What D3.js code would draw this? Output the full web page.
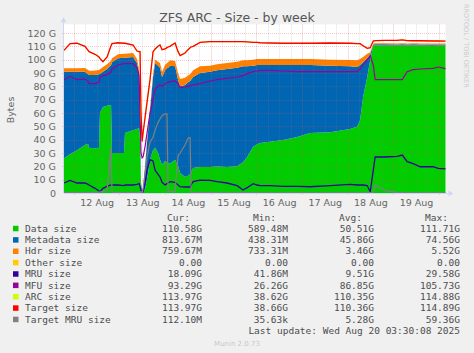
<!DOCTYPE html>
<html>
<head>
<meta charset="utf-8">
<script src="https://cdn.jsdelivr.net/npm/d3@7"></script>
<style>
  html, body { margin: 0; padding: 0; background: #f0f0f0; }
  svg { display: block; }
  .mono { font-family: "DejaVu Sans Mono", monospace; font-size: 9.5px; fill: #4d4d4d; }
</style>
</head>
<body>
<div id="chart"></div>
<script>
// time of each sample (Aug 2025)
var times = ["08-11 18:50","08-11 22:00","08-12 01:40","08-12 05:50","08-12 07:30","08-12 08:00","08-12 11:10",
  "08-12 13:15","08-12 13:45","08-12 15:20","08-12 17:30","08-12 19:35","08-12 20:05","08-12 23:15","08-13 02:25",
  "08-13 02:55","08-13 07:10","08-13 09:15","08-13 10:20","08-13 10:50","08-13 11:20","08-13 11:55","08-13 12:25",
  "08-13 13:30","08-13 14:30","08-13 16:05","08-13 17:40","08-13 18:45","08-13 20:20","08-13 21:20","08-13 22:25",
  "08-14 00:00","08-14 01:00","08-14 01:35","08-14 02:35","08-14 05:15","08-14 06:50","08-14 07:55","08-14 10:30",
  "08-14 12:05","08-14 13:10","08-14 13:40","08-14 14:45","08-14 18:25","08-14 23:40","08-15 03:20","08-15 08:35",
  "08-15 13:55","08-15 17:00","08-15 19:10","08-15 22:20","08-16 00:25","08-16 02:00","08-16 07:15","08-16 14:05",
  "08-16 21:30","08-17 04:20","08-17 14:50","08-18 01:20","08-18 05:00","08-18 06:35","08-18 08:10","08-18 10:20",
  "08-18 11:55","08-18 13:30","08-18 14:30","08-18 19:45","08-19 02:05","08-19 04:45","08-19 07:20","08-19 10:30",
  "08-19 14:10","08-19 21:00","08-19 23:40","08-20 03:30"];

// values in GB
var dataSize = [26,29,32,36,37,34,33.5,34,60,64.5,65.5,66,30,30,30,45,47,48,48.7,40,3,0.59,0.8,3,10,25,32,34,30,25,21,
  24,23,22.5,22,25,20,15,12,13,14,16,18.7,19.5,19.5,19.8,19.5,20,23,27,34.7,36.5,37.5,38.5,39.7,42,45,45.5,48,49.7,
  54.8,72,87,100,110.5,110.8,110.7,110.6,110.7,110.6,110.7,110.6,110.5,110.6,110.58];
var metadataSize = [65,62,59,55,52,54.5,55,55,29.5,26.5,27.5,30,68,71,71.5,56.5,55,49.5,41.3,30,5,0.44,2.2,17,28,37,
  55,63.5,65.5,69,66,68,70.5,71.5,73.5,70,65,65,69,70,70,69,68.3,70.5,71.5,72.2,73.5,74,72,68,60.8,59.5,58.5,57.5,
  56.3,54,51,50,47,44.8,41.2,26,14,4,0.8,0.82,0.81,0.81,0.82,0.81,0.81,0.81,0.81,0.81,0.81];
var hdrSize = [2.5,2.5,2.5,2.8,3.2,3.2,3.3,3.3,3.3,3.5,3.5,3.2,3,3,3,3,3,3,3,2.5,1,0.73,0.8,1,1.5,2,2.5,2.5,3,3.5,4,
  4,4,4,4,4,5,5.5,5.5,5.2,5,5,5,5,4.5,4.5,4.5,4.5,4.5,4.5,4.5,4.5,4.5,4.5,4.5,4.5,4.5,4.5,4.8,5,4.5,4,3.5,1.5,0.8,
  0.77,0.76,0.76,0.76,0.76,0.76,0.76,0.76,0.76,0.76];
var otherSize = [0,0,0,0,0,0,0,0,0,0,0,0,0,0,0,0,0,0,0,0,0,0,0,0,0,0,0,0,0,0,0,0,0,0,0,0,0,0,0,0,0,0,0,0,0,0,0,0,
  0,0,0,0,0,0,0,0,0,0,0,0,0,0,0,0,0,0,0,0,0,0,0,0,0,0,0];
var mruSize = [7.5,9.5,7.5,7.5,6.5,6,3.5,1.5,1,3.5,5,6,6,6,5.5,6,6,6.5,7,5,2,0.05,1,8,17,25,24,17,14,12,8,6,7,7.5,
  8.5,8,6,4.7,4.5,4.5,4.5,6,8.5,9.7,9.5,8.5,7.5,5.5,2.2,4,7,6,5.5,5.5,5,5,4.7,5.5,6.5,6,6,6,5.5,1,17,27,27,27.5,
  28.5,23.5,22,19.7,19.7,18.5,18.09];
var mfuSize = [84.7,87.5,85,85.5,84,82,82,83,87,88,89,90.5,93,96,97,97,97,94,88,60,30,26.3,27,35,45,60,70,78,80,81,
  80,82,82.5,83,83.5,84,82,79,79.5,80,80.5,80.5,81,82,84,85,86,87,88,89.5,91,91.5,92,92,91.5,91,91,91,91,91,93,96,
  100,103,96,85,85,85,85,91,92.5,93,93.5,94.5,93.29];
var arcSize = [107,112,112.3,110,107,106,104,102,101,98.5,102,110.5,112,112.7,112.3,112.3,111,106.5,106,106,60,
  38.62,45,57,68,85,106,108,110,111,107.5,108,109,109.5,110,112.5,106,103,105,107.5,109,109.5,110,113,113.5,113.5,
  113.5,113.5,113.5,113.3,113,113,112.7,112.5,112.3,112.3,112.3,112.5,112.3,112,112,110.5,108.5,109,114,114.3,114.4,
  114.5,114.88,114.3,114.2,114.2,114,114.1,113.97];
var targetSize = [107,112,112.3,110,107,106,104,102,101,98.5,102,110.5,112,112.7,112.3,112.3,111,106.5,106,106,60,
  38.66,45,57,68,85,106,108,110,111,107.5,108,109,109.5,110,112.5,106,103,105,107.5,109,109.5,110,113,113.5,113.5,
  113.5,113.5,113.5,113.3,113,113,112.7,112.5,112.3,112.3,112.3,112.5,112.3,112,112,110.5,108.5,109,114,114.3,114.4,
  114.5,114.89,114.3,114.2,114.2,114,114.1,113.97];
var targetMruSize = [0.3,0.3,0.2,0.3,0.3,0.3,0.4,0.5,0.8,1,2,34,0.5,0.3,0.3,0.3,0.3,0.3,0.3,0.3,1,0,3,15,27,38,42,47,
  53,55.5,58,59.3,59.36,1.5,1,1,28,30,36,41,41.5,0.5,0.3,0.3,0.3,0.2,0.2,0.2,0.3,0.3,0.2,0.2,0.2,0.2,0.2,0.2,0.2,0.2,
  0.2,0.2,0.2,0.2,0.2,0.3,0.5,6,2,0.3,0.3,0.2,0.2,0.2,0.2,0.2,0.11];

var dayLabels = ["12 Aug","13 Aug","14 Aug","15 Aug","16 Aug","17 Aug","18 Aug","19 Aug"];
var yTicks = [0,10,20,30,40,50,60,70,80,90,100,110,120];

var legendNames = ["Data size","Metadata size","Hdr size","Other size","MRU size","MFU size","ARC size","Target size","Target MRU size"];
var legendColors = ["#00cc00","#0066b3","#ff8000","#ffcc00","#330099","#990099","#ccff00","#ff0000","#808080"];
var curValues = ["110.58G","813.67M","759.67M","0.00","18.09G","93.29G","113.97G","113.97G","112.10M"];
var minValues = ["589.48M","438.31M","733.31M","0.00","41.86M","26.26G","38.62G","38.66G","35.63k"];
var avgValues = ["50.51G","45.86G","3.46G","0.00","9.51G","86.85G","110.35G","110.36G","5.28G"];
var maxValues = ["111.71G","74.56G","5.52G","0.00","29.58G","105.73G","114.88G","114.89G","59.36G"];

var width = 474, height = 353;
var plotLeft = 64, plotRight = 445.5, plotBottom = 193, plotTop = 33;

var parse = function(s) { return d3.timeParse("%Y-%m-%d %H:%M")("2025-" + s); };
var dates = times.map(parse);

var svg = d3.select("#chart").append("svg")
  .attr("width", width).attr("height", height)
  .style("font-family", "'DejaVu Sans', sans-serif");

svg.append("rect").attr("width", width).attr("height", height).attr("fill", "#f0f0f0");

var x = d3.scaleTime().domain([dates[0], dates[dates.length - 1]]).range([plotLeft, plotRight]);
var y = d3.scaleLinear().domain([0, 120]).range([plotBottom, plotTop]);
var canvasTop = y(126.5);

// canvas
svg.append("rect")
  .attr("x", plotLeft).attr("y", canvasTop)
  .attr("width", plotRight - plotLeft).attr("height", plotBottom - canvasTop)
  .attr("fill", "#ffffff");

// stacked areas
var rows = dates.map(function(d, i) {
  return { date: d, data: dataSize[i], meta: metadataSize[i], hdr: hdrSize[i], other: otherSize[i] };
});
var stack = d3.stack().keys(["data", "meta", "hdr", "other"]);
var series = stack(rows);
var area = d3.area()
  .x(function(d) { return x(d.data.date); })
  .y0(function(d) { return y(d[0]); })
  .y1(function(d) { return y(d[1]); });

svg.selectAll(".layer")
  .data(series)
  .enter()
  .append("path")
  .attr("class", "layer")
  .attr("d", area)
  .attr("fill", function(d, i) { return legendColors[i]; });

// grid (rrdtool draws it over the areas)
var gridG = svg.append("g");
var minorHours = d3.timeHour.every(6).range(parse("08-11 19:00"), parse("08-20 03:30"));
gridG.selectAll(".vminor")
  .data(minorHours.filter(function(d) { return d.getHours() != 0; }))
  .enter().append("line")
  .attr("x1", function(d) { return Math.round(x(d)) + 0.5; }).attr("x2", function(d) { return Math.round(x(d)) + 0.5; })
  .attr("y1", canvasTop).attr("y2", plotBottom)
  .attr("stroke", "rgba(140,140,140,0.25)").attr("stroke-dasharray", "1,1");
gridG.selectAll(".vmajor")
  .data(d3.timeDay.range(parse("08-12 00:00"), parse("08-20 03:30")))
  .enter().append("line")
  .attr("x1", function(d) { return Math.round(x(d)) + 0.5; }).attr("x2", function(d) { return Math.round(x(d)) + 0.5; })
  .attr("y1", canvasTop).attr("y2", plotBottom + 2)
  .attr("stroke", "rgba(224,80,80,0.35)").attr("stroke-dasharray", "1,1");
gridG.selectAll(".hmajor")
  .data(yTicks.slice(1))
  .enter().append("line")
  .attr("x1", plotLeft - 2).attr("x2", plotRight)
  .attr("y1", function(d) { return Math.round(y(d)) + 0.5; }).attr("y2", function(d) { return Math.round(y(d)) + 0.5; })
  .attr("stroke", "rgba(224,80,80,0.3)").attr("stroke-dasharray", "1,1");

// lines
var lineSeries = [
  { values: mruSize, color: legendColors[4], w: 1.3 },
  { values: mfuSize, color: legendColors[5], w: 1.2 },
  { values: arcSize, color: legendColors[6], w: 1.1 },
  { values: targetSize, color: legendColors[7], w: 1.3 },
  { values: targetMruSize, color: legendColors[8], w: 1.2 }
];
var line = d3.line()
  .x(function(d) { return x(d.date); })
  .y(function(d) { return y(d.v); });
lineSeries.forEach(function(s) {
  svg.append("path")
    .datum(dates.map(function(d, i) { return { date: d, v: s.values[i] }; }))
    .attr("d", line)
    .attr("fill", "none")
    .attr("stroke", s.color)
    .attr("stroke-width", s.w);
});

// axes
var axisColor = "#cfd6f8";
svg.append("line").attr("x1", plotLeft).attr("x2", plotRight + 4).attr("y1", plotBottom + 0.5).attr("y2", plotBottom + 0.5)
  .attr("stroke", axisColor);
svg.append("line").attr("x1", plotLeft - 0.5).attr("x2", plotLeft - 0.5).attr("y1", plotBottom).attr("y2", canvasTop - 3)
  .attr("stroke", axisColor);
svg.append("path").attr("d", "M" + (plotRight + 8) + "," + (plotBottom + 0.5) + "l-5,-3v6z").attr("fill", axisColor);
svg.append("path").attr("d", "M" + (plotLeft - 0.5) + "," + (canvasTop - 7) + "l-3,5h6z").attr("fill", axisColor);

var yAxis = d3.axisLeft(y)
  .tickValues(yTicks)
  .tickSize(0)
  .tickPadding(8)
  .tickFormat(function(d) { return d == 0 ? "0" : d + " G"; });
var yG = svg.append("g").attr("transform", "translate(" + plotLeft + ",0)").call(yAxis);
yG.select(".domain").remove();
yG.selectAll("text").attr("fill", "#666").style("font-size", "9.5px").style("font-family", "'DejaVu Sans', sans-serif");

var noonDates = dayLabels.map(function(d, i) { return d3.timeHour.offset(parse("08-12 12:00"), 24 * i); });
var xAxis = d3.axisBottom(x)
  .tickValues(noonDates)
  .tickSize(0)
  .tickPadding(6)
  .tickFormat(function(d, i) { return dayLabels[i]; });
var xG = svg.append("g").attr("transform", "translate(0," + plotBottom + ")").call(xAxis);
xG.select(".domain").remove();
xG.selectAll("text").attr("fill", "#666").style("font-size", "9.5px").style("font-family", "'DejaVu Sans', sans-serif");

// title and labels
svg.append("text").attr("x", 237).attr("y", 22).attr("text-anchor", "middle")
  .attr("fill", "#555").style("font-size", "12.5px").text("ZFS ARC - Size - by week");
svg.append("text").attr("transform", "translate(14,110) rotate(-90)").attr("text-anchor", "middle")
  .attr("fill", "#666").style("font-size", "9.5px").text("Bytes");
svg.append("text").attr("transform", "translate(464,4) rotate(90)")
  .attr("fill", "#cccccc").style("font-size", "6.5px").text("RRDTOOL / TOBI OETIKER");

// legend
var rowY = 228.3, rowStep = 11.36;
var colEnds = [202, 288, 374, 460];
var headers = ["Cur:", "Min:", "Avg:", "Max:"];
headers.forEach(function(h, i) {
  svg.append("text").attr("class", "mono").attr("x", colEnds[i] - 12).attr("y", 217.3 + 3.4)
    .attr("text-anchor", "end").text(h);
});
var legend = svg.selectAll(".leg").data(legendNames).enter().append("g")
  .attr("transform", function(d, i) { return "translate(0," + (rowY + i * rowStep) + ")"; });
legend.append("rect").attr("x", 13).attr("y", -2.5).attr("width", 5.5).attr("height", 5.5)
  .attr("fill", function(d, i) { return legendColors[i]; });
legend.append("text").attr("class", "mono").attr("x", 25).attr("y", 3.4).text(function(d) { return d; });
[curValues, minValues, avgValues, maxValues].forEach(function(vals, c) {
  legend.append("text").attr("class", "mono").attr("x", colEnds[c]).attr("y", 3.4)
    .attr("text-anchor", "end").text(function(d, i) { return vals[i]; });
});
svg.append("text").attr("class", "mono").attr("x", 460).attr("y", 331 + 3.4).attr("text-anchor", "end")
  .text("Last update: Wed Aug 20 03:30:08 2025");
svg.append("text").attr("x", 237).attr("y", 345.5).attr("text-anchor", "middle")
  .attr("fill", "#c8c8c8").style("font-size", "7px").text("Munin 2.0.73");
</script>
</body>
</html>
